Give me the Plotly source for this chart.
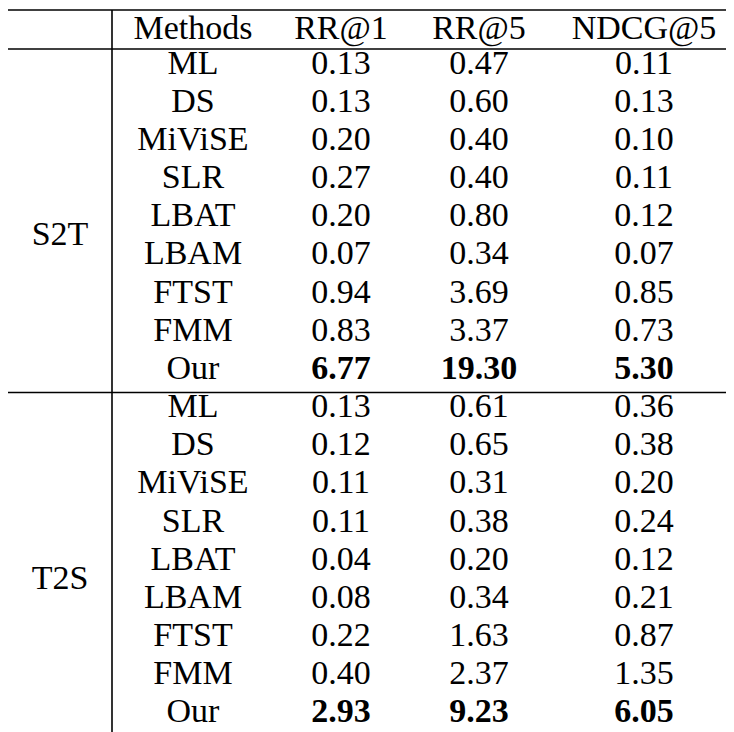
import plotly.graph_objects as go

# table content
HEADERS = ["", "Methods", "RR@1", "RR@5", "NDCG@5"]
GROUPS = ["S2T", "T2S"]
METHODS = ["ML", "DS", "MiViSE", "SLR", "LBAT", "LBAM", "FTST", "FMM", "Our"]

S2T_RR1 = [0.13, 0.13, 0.20, 0.27, 0.20, 0.07, 0.94, 0.83, 6.77]
S2T_RR5 = [0.47, 0.60, 0.40, 0.40, 0.80, 0.34, 3.69, 3.37, 19.30]
S2T_NDCG5 = [0.11, 0.13, 0.10, 0.11, 0.12, 0.07, 0.85, 0.73, 5.30]

T2S_RR1 = [0.13, 0.12, 0.11, 0.11, 0.04, 0.08, 0.22, 0.40, 2.93]
T2S_RR5 = [0.61, 0.65, 0.31, 0.38, 0.20, 0.34, 1.63, 2.37, 9.23]
T2S_NDCG5 = [0.36, 0.38, 0.20, 0.24, 0.12, 0.21, 0.87, 1.35, 6.05]

GROUP_DATA = [
    [S2T_RR1, S2T_RR5, S2T_NDCG5],
    [T2S_RR1, T2S_RR5, T2S_NDCG5],
]

# layout (pixel-like coordinates on hidden axes)
W, H = 734, 732
COL_X = [52, 185, 333, 471, 636]
TOP, HEAD_LINE, BOTTOM = 2, 41, 728
ROW_H = (BOTTOM - HEAD_LINE) / (2 * len(METHODS))
VLINE_X = 104
FONT = dict(family="Liberation Serif", size=34, color="black")

xs, ys, texts = [], [], []

# header row
for j, h in enumerate(HEADERS):
    if h:
        xs.append(COL_X[j]); ys.append(22); texts.append(h)

for g, name in enumerate(GROUPS):
    g_top = HEAD_LINE + g * len(METHODS) * ROW_H
    g_mid = g_top + len(METHODS) * ROW_H / 2
    xs.append(COL_X[0]); ys.append(g_mid + 16); texts.append(name)
    cols = GROUP_DATA[g]
    for i, m in enumerate(METHODS):
        y = g_top + (i + 0.5) * ROW_H - 3
        xs.append(COL_X[1]); ys.append(y); texts.append(m)
        for c, vals in enumerate(cols):
            s = f"{vals[i]:.2f}"
            if vals[i] == max(vals):
                s = f"<b>{s}</b>"
            xs.append(COL_X[2 + c]); ys.append(y); texts.append(s)

fig = go.Figure(go.Scatter(x=xs, y=ys, text=texts, mode="text",
                           textposition="middle center", textfont=FONT,
                           hoverinfo="skip"))

line = dict(color="black", width=1.6)
sep_y = HEAD_LINE + len(METHODS) * ROW_H
shapes = []
for yy in [TOP, HEAD_LINE, sep_y, BOTTOM]:
    shapes.append(dict(type="line", xref="x", yref="y", x0=0, x1=730,
                       y0=yy, y1=yy, line=line))
shapes.append(dict(type="line", xref="x", yref="y", x0=VLINE_X, x1=VLINE_X,
                   y0=TOP, y1=BOTTOM, line=line))

fig.update_layout(
    width=W, height=H,
    margin=dict(l=0, r=0, t=0, b=0),
    paper_bgcolor="white", plot_bgcolor="white",
    showlegend=False,
    shapes=shapes,
    font=FONT,
    xaxis=dict(range=[0, W], visible=False, fixedrange=True),
    yaxis=dict(range=[H, 0], visible=False, fixedrange=True),
)

fig.write_html("out.html")
